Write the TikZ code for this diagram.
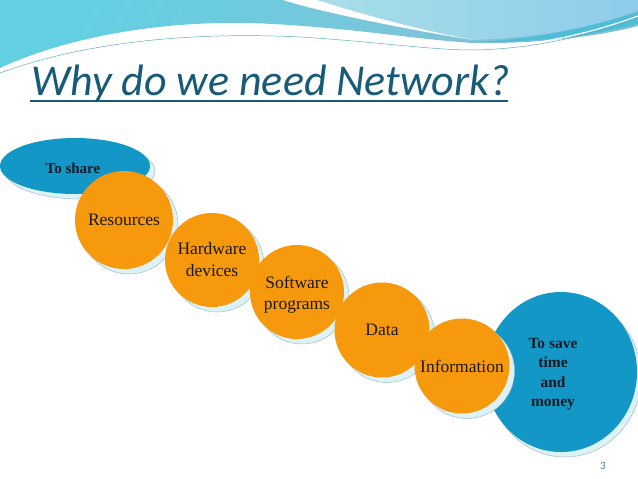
\documentclass[tikz,border=0pt]{standalone}
\usepackage{fontspec}
\setmainfont{Liberation Serif}
\newfontfamily\titlefont{Carlito}
\usetikzlibrary{shapes.geometric}
\definecolor{orangec}{HTML}{F7990C}
\definecolor{bluec}{HTML}{1297C7}
\definecolor{shadowc}{HTML}{DDF2F7}
\definecolor{shadowline}{HTML}{9DBFCB}
\definecolor{titlec}{HTML}{175B78}
\definecolor{hdrA}{HTML}{86BFD5}
\definecolor{hdrB}{HTML}{63D0E2}
\definecolor{hdrC}{HTML}{A9DEE9}
\definecolor{hdrD}{HTML}{8ECCEA}
\definecolor{hdrE}{HTML}{4DBED8}
\definecolor{hdrline}{HTML}{5FAFC6}
\definecolor{txtc}{HTML}{1C1A18}
\definecolor{txtb}{HTML}{0E1A26}
\definecolor{pagec}{HTML}{3F8AA5}
\tikzset{
  ball/.style={circle, fill=orangec, draw=none, inner sep=0pt, align=center,
    text=txtc, font=\fontsize{17.5}{22}\selectfont},
  blueball/.style={fill=bluec, draw=none, inner sep=0pt, align=center,
    text=txtb, font=\bfseries\fontsize{15.5}{19.5}\selectfont},
  shadowshape/.style={fill=shadowc, draw=shadowline, line width=0.5pt},
}
\begin{document}
\begin{tikzpicture}[x=1pt,y=-1pt]
\useasboundingbox (0,0) rectangle (638,479);
\fill[white] (0,0) rectangle (638,479);
% header
\shade[left color=hdrB, right color=hdrA, shading angle=60]
  (0,0) -- (638,0) -- (638,26) .. controls (600,36) and (540,44) .. (473,43)
  .. controls (420,40) and (340,26) .. (250,23)
  .. controls (150,21) and (60,40) .. (0,68) -- cycle;
\shade[left color=hdrC, right color=hdrD]
  (317,0) -- (638,0) -- (638,10) .. controls (600,26) and (540,38) .. (473,40)
  .. controls (420,30) and (360,14) .. (317,0) -- cycle;
\fill[white] (283,0) .. controls (320,12) and (410,30) .. (473,40)
  .. controls (410,28) and (355,12) .. (317,0) -- cycle;
\fill[hdrE] (473,42) .. controls (540,40) and (600,24) .. (638,12) -- (638,24)
  .. controls (600,34) and (540,43) .. (473,42) -- cycle;
\draw[white, line width=1.2pt] (0,71) .. controls (90,38) and (200,30) .. (300,35)
  .. controls (380,40) and (430,48) .. (473,48) .. controls (540,47) and (600,30) .. (638,16);
\draw[hdrline, line width=0.5pt] (0,73) .. controls (90,40) and (200,32) .. (300,37)
  .. controls (380,42) and (430,50) .. (473,50) .. controls (540,49) and (600,32) .. (638,18);
% title
\node[anchor=base west, inner sep=0pt, text=titlec,
  font=\titlefont\itshape\fontsize{44}{50}\selectfont] (title) at (31,95) {Why do we need Network?};
\draw[titlec, line width=2pt] (30,101) -- (508,101);
% To share
\fill[shadowshape] (80,171) ellipse (75pt and 28pt);
\node[blueball, ellipse, minimum width=150pt, minimum height=56pt] (share) at (75,166) {};
\node[anchor=base, inner sep=0pt, text=txtb, font=\bfseries\fontsize{15}{18}\selectfont] (sharet) at (73,173) {To share};
% Resources
\fill[shadowshape] (129,225) circle (49pt);
\node[ball, minimum size=98pt] (res) at (124,220) {Resources};
% Hardware
\fill[shadowshape] (217,265) circle (47pt);
\node[ball, minimum size=94pt] (hw) at (212,260) {Hardware\\devices};
% Software
\fill[shadowshape] (302,297) circle (47pt);
\node[ball, minimum size=94pt] (sw) at (297,292) {};
\node[align=center, inner sep=0pt, text=txtc, font=\fontsize{17.5}{21}\selectfont] (swt) at (297,295) {Software\\programs};
% Data
\fill[shadowshape] (387,335) circle (47.5pt);
\node[ball, minimum size=95pt] (data) at (382,330) {Data};
% To save
\fill[shadowshape] (565,377) ellipse (76pt and 80pt);
\node[blueball, ellipse, minimum width=152pt, minimum height=160pt] (save) at (561,372) {};
\node[align=center, inner sep=0pt, text=txtb, font=\bfseries\fontsize{15.5}{19.5}\selectfont] (savet) at (553,374) {To save\\time\\and\\money};
% Information
\fill[shadowshape] (467,371) circle (47.5pt);
\node[ball, minimum size=95pt] (info) at (462,366) {Information};
% page number
\node[text=pagec, inner sep=0pt, font=\titlefont\fontsize{11}{13}\selectfont] (pg) at (603,466) {3};
\end{tikzpicture}
\end{document}
